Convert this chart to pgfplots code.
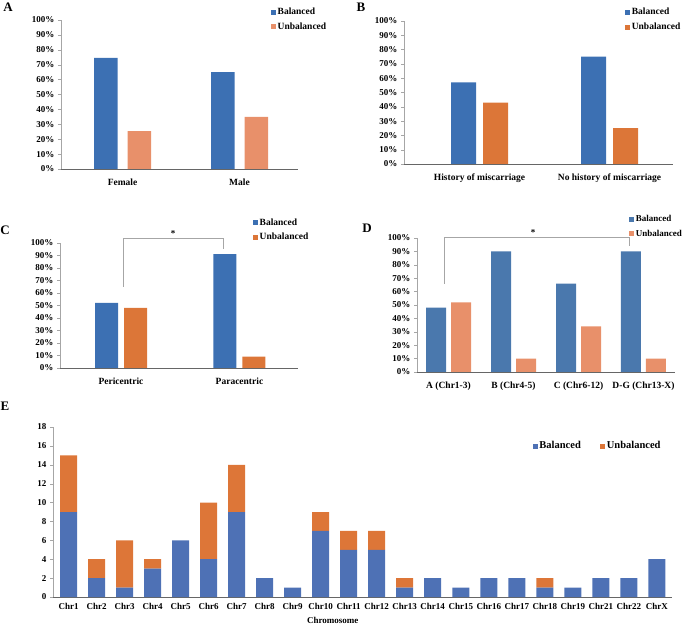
\documentclass[border=0pt]{standalone}
\usepackage{fontspec}
\setmainfont{Liberation Serif}
\usepackage{pgfplots}
\usepackage{pgfplotstable}
\pgfplotsset{compat=1.18}

\definecolor{blueA}{HTML}{3C70B3}
\definecolor{salmon}{HTML}{E8906A}
\definecolor{orangeB}{HTML}{DC7638}
\definecolor{blueD}{HTML}{4A78AD}
\definecolor{blueE}{HTML}{4E71B5}
\definecolor{orangeE}{HTML}{DD7638}

\pgfplotsset{
  base/.style={
    scale only axis, clip=false,
    axis x line*=bottom, axis y line*=left,
    x axis line style={black!60, line width=0.8pt},
    y axis line style={black!35, line width=0.6pt},
    ytick style={black!35}, tick align=outside, major tick length=3pt,
    xtick style={draw=none}, xtick=data,
    /pgf/number format/assume math mode=true,
    legend style={draw=none, fill=none, anchor=north west, inner sep=0pt,
      nodes={inner sep=1.5pt},
      font=\bfseries\fontsize{9.5}{10}\selectfont, row sep=3.5pt},
    legend cell align=left,
  },
  sqlegend/.style={
    legend image code/.code={\fill[##1,draw=none] (0pt,-2.5pt) rectangle (5pt,2.5pt);},
  },
  pct/.style={
    base, ymin=0, ymax=100, ytick={0,10,...,100},
    yticklabel={\pgfmathprintnumber{\tick}\%},
    yticklabel style={font=\bfseries\fontsize{9}{9}\selectfont},
    xticklabel style={font=\bfseries\fontsize{9.5}{10}\selectfont, yshift=-3pt},
  },
}

\pgfplotstableread{
x chr bal unb
0 Chr1 9 6
1 Chr2 2 2
2 Chr3 1 5
3 Chr4 3 1
4 Chr5 6 0
5 Chr6 4 6
6 Chr7 9 5
7 Chr8 2 0
8 Chr9 1 0
9 Chr10 7 2
10 Chr11 5 2
11 Chr12 5 2
12 Chr13 1 1
13 Chr14 2 0
14 Chr15 1 0
15 Chr16 2 0
16 Chr17 2 0
17 Chr18 1 1
18 Chr19 1 0
19 Chr21 2 0
20 Chr22 2 0
21 ChrX 4 0
}\chrdata

\begin{document}
\begin{tikzpicture}
\useasboundingbox (0pt,0pt) rectangle (685pt,624pt);

% A
\begin{axis}[pct, at={(61pt,455pt)}, anchor=south west, width=237pt, height=149pt,
  ybar=10pt, bar width=23.5pt, xmin=-0.526, xmax=1.5, sqlegend,
  xticklabels={Female,Male},
  legend style={at={(axis description cs:0.886,1.09)}}]
\addplot[fill=blueA, draw=none] coordinates {(0,74.5) (1,65)};
\addplot[fill=salmon, draw=none] coordinates {(0,25.5) (1,35)};
\legend{Balanced,Unbalanced}
\end{axis}

% B
\begin{axis}[pct, at={(404pt,460pt)}, anchor=south west, width=269pt, height=143pt,
  ybar=7pt, bar width=25pt, xmin=-0.581, xmax=1.488, sqlegend,
  xticklabels={History of miscarriage,No history of miscarriage},
  legend style={at={(axis description cs:0.822,1.10)}}]
\addplot[fill=blueA, draw=none] coordinates {(0,57) (1,75)};
\addplot[fill=orangeB, draw=none] coordinates {(0,43) (1,25)};
\legend{Balanced,Unbalanced}
\end{axis}

% C
\begin{axis}[pct, at={(60pt,256pt)}, anchor=south west, width=238pt, height=125pt,
  ybar=6pt, bar width=23pt, xmin=-0.515, xmax=1.494, sqlegend,
  xticklabels={Pericentric,Paracentric},
  legend style={at={(axis description cs:0.811,1.21)}}]
\addplot[fill=blueA, draw=none] coordinates {(0,52) (1,91)};
\addplot[fill=orangeB, draw=none] coordinates {(0,48) (1,9)};
\legend{Balanced,Unbalanced}
\draw[black!35, line width=0.8pt] (axis cs:0.017,64.8) -- (axis cs:0.017,104) -- (axis cs:0.861,104) -- (axis cs:0.861,95.2);
\node[font=\bfseries\fontsize{9}{9}\selectfont] at (axis cs:0.439,107.5) {*};
\end{axis}

% D
\begin{axis}[pct, at={(417pt,252pt)}, anchor=south west, width=258pt, height=134pt,
  ybar=5pt, bar width=20pt, xmin=-0.485, xmax=3.485, sqlegend,
  xticklabels={A (Chr1-3),B (Chr4-5),C (Chr6-12),D-G (Chr13-X)},
  legend style={at={(axis description cs:0.822,1.18)}, font=\bfseries\fontsize{9}{10}\selectfont}]
\addplot[fill=blueD, draw=none] coordinates {(0,48) (1,90) (2,66) (3,90)};
\addplot[fill=salmon, draw=none] coordinates {(0,52) (1,10) (2,34) (3,10)};
\legend{Balanced,Unbalanced}
\draw[black!35, line width=0.8pt] (axis cs:-0.07,65.7) -- (axis cs:-0.07,100.5) -- (axis cs:2.777,100.5) -- (axis cs:2.777,94);
\node[font=\bfseries\fontsize{9}{9}\selectfont] at (axis cs:1.30,104) {*};
\end{axis}

% E
\begin{axis}[base, at={(53pt,27pt)}, anchor=south west, width=619pt, height=170pt,
  ybar stacked, bar width=17pt, xmin=-0.554, xmax=21.54, sqlegend,
  ymin=0, ymax=18, ytick={0,2,...,18},
  xticklabels from table={\chrdata}{chr},
  yticklabel style={font=\bfseries\fontsize{9}{9}\selectfont},
  xticklabel style={font=\bfseries\fontsize{9}{9}\selectfont},
  xlabel={Chromosome},
  xlabel style={font=\bfseries\fontsize{9}{9}\selectfont, at={(axis description cs:0.452,-0.135)}, anchor=center},
  legend columns=2,
  legend style={at={(axis description cs:0.775,0.924)}, font=\bfseries\fontsize{10.5}{12}\selectfont},
  /tikz/every even column/.append style={column sep=18pt}]
\addplot[fill=blueE, draw=none] table[x=x, y=bal] {\chrdata};
\addplot[fill=orangeE, draw=none] table[x=x, y=unb] {\chrdata};
\legend{Balanced,Unbalanced}
\end{axis}

\node[font=\bfseries\fontsize{13}{13}\selectfont] at (8pt,617pt) {A};
\node[font=\bfseries\fontsize{13}{13}\selectfont] at (361pt,617pt) {B};
\node[font=\bfseries\fontsize{13}{13}\selectfont] at (5pt,394pt) {C};
\node[font=\bfseries\fontsize{13}{13}\selectfont] at (367pt,396pt) {D};
\node[font=\bfseries\fontsize{13}{13}\selectfont] at (5pt,218pt) {E};
\end{tikzpicture}
\end{document}
